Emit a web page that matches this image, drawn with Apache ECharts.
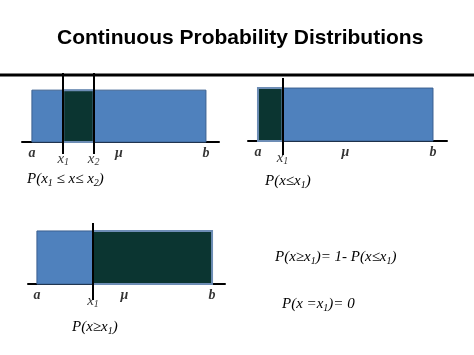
<!DOCTYPE html>
<html lang="en">
<head>
<meta charset="UTF-8">
<title>Continuous Probability Distributions</title>
<script src="https://cdn.jsdelivr.net/npm/echarts@6/dist/echarts.min.js"></script>
<style>
  html, body { margin: 0; padding: 0; background: #fff; }
  #chart { width: 474px; height: 355px; }
</style>
</head>
<body>
<div id="chart"></div>
<script>
// uniform distribution on [a, b]
const a = 0;
const b = 10;
const mu = 5;
const density = 1 / (b - a);

// one entry per small panel
const cutPoints = [[1.8, 3.55], [1.4], [3.2]];
const cutNames = [['x1', 'x2'], ['x1'], ['x1']];
const shadedFrom = [1.8, 0, 3.2];
const shadedTo = [3.55, 1.4, 10];
const panelFormulas = ['P(x1 ≤ x≤ x2)', 'P(x≤x1)', 'P(x≥x1)'];
const sideNotes = ['P(x≥x1)= 1- P(x≤x1)', 'P(x =x1)= 0'];
const chartTitle = 'Continuous Probability Distributions';

// layout
const panelBoxes = [
  { left: 22, top: 73, width: 197, height: 81 },
  { left: 248, top: 78, width: 199, height: 77 },
  { left: 28, top: 223, width: 197, height: 77 }
];
const xSpan = [[-0.57, 10.75], [-0.57, 10.8], [-0.51, 10.74]];
const ySpan = [[-0.23, 1.33], [-0.264, 1.19], [-0.30, 1.15]]; // in units of the density
const formulaPos = [[27, 171], [265, 173], [72, 319]];
const notePos = [[275, 249], [282, 296]];

const serif = '"Liberation Serif", "Times New Roman", serif';
const richStyles = {
  v: { fontFamily: serif, fontSize: 15, fontStyle: 'italic', fontWeight: 'normal', color: '#000' },
  s: { fontFamily: serif, fontSize: 10, fontStyle: 'italic', fontWeight: 'normal', color: '#000', padding: [7, 0, 0, 0] },
  e: { fontFamily: serif, fontSize: 14, fontStyle: 'italic', fontWeight: 'bold', color: '#000' },
  lv: { fontFamily: serif, fontSize: 15, fontStyle: 'italic', fontWeight: 'normal', color: '#000' },
  ls: { fontFamily: serif, fontSize: 10, fontStyle: 'italic', fontWeight: 'normal', color: '#000', padding: [7, 0, 0, 0] }
};

// "x1" -> x with subscript 1
function toRich(str) {
  return '{v|' + str.replace(/x(\d)/g, 'x}{s|$1}{v|') + '}';
}
function markLabel(name) {
  if (name[0] === 'x') return '{lv|x}{ls|' + name.slice(1) + '}';
  return '{e|' + name + '}';
}

const chart = echarts.init(document.getElementById('chart'));

const grid = [], xAxis = [], yAxis = [], series = [];
panelBoxes.forEach((box, i) => {
  grid.push(box);
  xAxis.push({
    type: 'value', gridIndex: i, min: xSpan[i][0], max: xSpan[i][1],
    axisLine: { show: true, onZero: true, lineStyle: { color: '#000', width: 2 } },
    axisTick: { show: false }, axisLabel: { show: false }, splitLine: { show: false }
  });
  yAxis.push({
    type: 'value', gridIndex: i, min: ySpan[i][0] * density, max: ySpan[i][1] * density,
    show: false, splitLine: { show: false }
  });

  // full area and shaded probability
  series.push({
    type: 'custom', xAxisIndex: i, yAxisIndex: i, silent: true, animation: false,
    data: [[a, b, density], [shadedFrom[i], shadedTo[i], density]],
    renderItem: (params, api) => {
      const p0 = api.coord([api.value(0), api.value(2)]);
      const p1 = api.coord([api.value(1), 0]);
      const shaded = params.dataIndex === 1;
      return {
        type: 'rect',
        shape: { x: p0[0], y: p0[1], width: p1[0] - p0[0], height: p1[1] - p0[1] },
        style: shaded
          ? { fill: '#0b3531', stroke: '#6d8db5', lineWidth: 2 }
          : { fill: '#4f81bd', stroke: '#3b6090', lineWidth: 1 }
      };
    }
  });

  // axis marks and cut lines
  const marks = [{ name: 'a', x: a }, { name: 'μ', x: mu }, { name: 'b', x: b }];
  cutPoints[i].forEach((c, k) => marks.push({ name: cutNames[i][k], x: c }));
  series.push({
    type: 'scatter', xAxisIndex: i, yAxisIndex: i, silent: true, animation: false,
    symbolSize: 1, itemStyle: { color: 'transparent' },
    data: marks.map(m => ({
      value: [m.x, 0],
      label: {
        show: true, position: 'bottom', distance: m.name[0] === 'x' ? 8 : 4,
        formatter: markLabel(m.name), rich: richStyles
      }
    })),
    markLine: {
      silent: true, animation: false, symbol: 'none',
      label: { show: false },
      lineStyle: { color: '#000', width: 2, type: 'solid' },
      data: cutPoints[i].map(c => ({ xAxis: c }))
    },
    z: 5
  });
});

const titles = [{
  text: chartTitle, left: 57, top: 28, padding: 0,
  textStyle: { fontFamily: '"Liberation Sans", Arial, sans-serif', fontSize: 21, fontWeight: 'bold', color: '#000' }
}];
panelFormulas.forEach((f, i) => titles.push({
  text: toRich(f), left: formulaPos[i][0], top: formulaPos[i][1], padding: 0,
  textStyle: { fontWeight: 'normal', rich: richStyles }
}));
sideNotes.forEach((f, i) => titles.push({
  text: toRich(f), left: notePos[i][0], top: notePos[i][1], padding: 0,
  textStyle: { fontWeight: 'normal', rich: richStyles }
}));

chart.setOption({
  backgroundColor: '#fff',
  animation: false,
  title: titles,
  grid: grid,
  xAxis: xAxis,
  yAxis: yAxis,
  series: series,
  graphic: [{
    type: 'line', silent: true,
    shape: { x1: 0, y1: 75, x2: 474, y2: 75 },
    style: { stroke: '#000', lineWidth: 3 }
  }]
});
</script>
</body>
</html>
